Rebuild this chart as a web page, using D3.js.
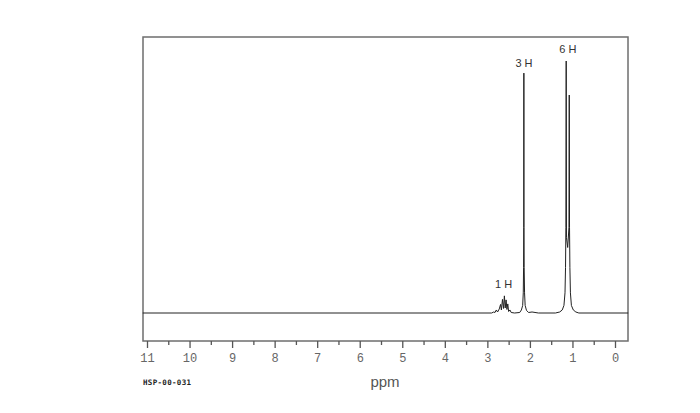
<!DOCTYPE html>
<html>
<head>
<meta charset="utf-8">
<script src="https://cdn.jsdelivr.net/npm/d3@7"></script>
<style>
body { margin: 0; background: #fff; }
</style>
</head>
<body>
<div id="chart"></div>
<script>
// spectrum points: [ppm, intensity]
var spectrum = [
  [11.1, 0], [2.90, 0], [2.85, 0.4], [2.82, 0.2], [2.79, 1.2], [2.76, 0.4],
  [2.72, 1.6], [2.69, 3.4], [2.67, 1.2], [2.645, 5.4], [2.62, 1.8], [2.60, 6.8],
  [2.58, 2.0], [2.56, 5.2], [2.54, 1.4], [2.52, 3.6], [2.50, 0.6], [2.47, 1.2],
  [2.44, 0.2], [2.36, 0], [2.24, 0.2], [2.20, 1.2], [2.17, 3], [2.156, 8],
  [2.149, 18], [2.145, 34], [2.142, 95.2], [2.139, 34], [2.135, 18], [2.126, 8],
  [2.112, 3], [2.08, 1], [2.03, 0.2], [1.95, 0.4], [1.80, 0], [1.40, 0],
  [1.30, 0.4], [1.24, 1.2], [1.20, 3], [1.175, 8], [1.163, 18], [1.154, 34],
  [1.147, 100], [1.141, 30], [1.112, 26], [1.082, 34], [1.075, 86.5], [1.069, 34],
  [1.060, 18], [1.048, 8], [1.025, 3], [0.98, 1.2], [0.92, 0.4], [0.85, 0],
  [-0.31, 0]
];
var majorTicks = [11, 10, 9, 8, 7, 6, 5, 4, 3, 2, 1, 0];
var minorTicks = [10.5, 9.5, 8.5, 7.5, 6.5, 5.5, 4.5, 3.5, 2.5, 1.5, 0.5];
var peakLabels = [
  {text: "6 H", ppm: 1.11, value: 100, gap: 8},
  {text: "3 H", ppm: 2.14, value: 95.2, gap: 6},
  {text: "1 H", ppm: 2.62, value: 6.8, gap: 8}
];

var W = 700, H = 413;
var frame = {left: 143, right: 628, top: 37, bottom: 341};

var svg = d3.select("#chart").append("svg")
  .attr("width", W)
  .attr("height", H);

// scales
var x = d3.scaleLinear().domain([11, 0]).range([147, 615]);
var y = d3.scaleLinear().domain([0, 100]).range([313, 61]);

// frame
svg.append("rect")
  .attr("x", frame.left)
  .attr("y", frame.top)
  .attr("width", frame.right - frame.left)
  .attr("height", frame.bottom - frame.top)
  .attr("fill", "none")
  .attr("stroke", "#6e6e6e")
  .attr("stroke-width", 1.5);

// spectrum line
var line = d3.line()
  .x(function(d) { return x(d[0]); })
  .y(function(d) { return y(d[1]); });

svg.append("path")
  .datum(spectrum)
  .attr("d", line)
  .attr("fill", "none")
  .attr("stroke", "#222")
  .attr("stroke-width", 1);

// axis with major ticks
var axis = svg.append("g")
  .attr("transform", "translate(0," + frame.bottom + ")")
  .call(d3.axisBottom(x).tickValues(majorTicks).tickSize(7).tickPadding(5)
    .tickFormat(d3.format("d")));
axis.select(".domain").remove();
axis.selectAll(".tick line").attr("stroke", "#555").attr("stroke-width", 1.3);
axis.selectAll(".tick text")
  .attr("fill", "#666")
  .style("font-family", "Liberation Mono, DejaVu Sans Mono, monospace")
  .style("font-size", "12px");

// minor ticks
var minor = svg.append("g")
  .attr("transform", "translate(0," + frame.bottom + ")")
  .call(d3.axisBottom(x).tickValues(minorTicks).tickSize(4).tickFormat(""));
minor.select(".domain").remove();
minor.selectAll(".tick line").attr("stroke", "#555").attr("stroke-width", 1.3);

// peak integration labels
svg.selectAll(".peak-label")
  .data(peakLabels)
  .enter().append("text")
  .attr("class", "peak-label")
  .attr("x", function(d) { return x(d.ppm); })
  .attr("y", function(d) { return y(d.value) - d.gap; })
  .attr("text-anchor", "middle")
  .style("font-family", "Liberation Sans, Arial, sans-serif")
  .style("font-size", "11px")
  .attr("fill", "#333")
  .text(function(d) { return d.text; });

// x axis title
svg.append("text")
  .attr("x", 385)
  .attr("y", 387)
  .attr("text-anchor", "middle")
  .style("font-family", "Liberation Sans, Arial, sans-serif")
  .style("font-size", "15px")
  .attr("fill", "#555")
  .text("ppm");

// spectrum id
svg.append("text")
  .attr("x", frame.left)
  .attr("y", 385)
  .attr("textLength", 48)
  .style("font-family", "DejaVu Sans Mono, monospace")
  .style("font-size", "7.5px")
  .style("font-weight", "bold")
  .attr("fill", "#222")
  .text("HSP-00-031");
</script>
</body>
</html>
